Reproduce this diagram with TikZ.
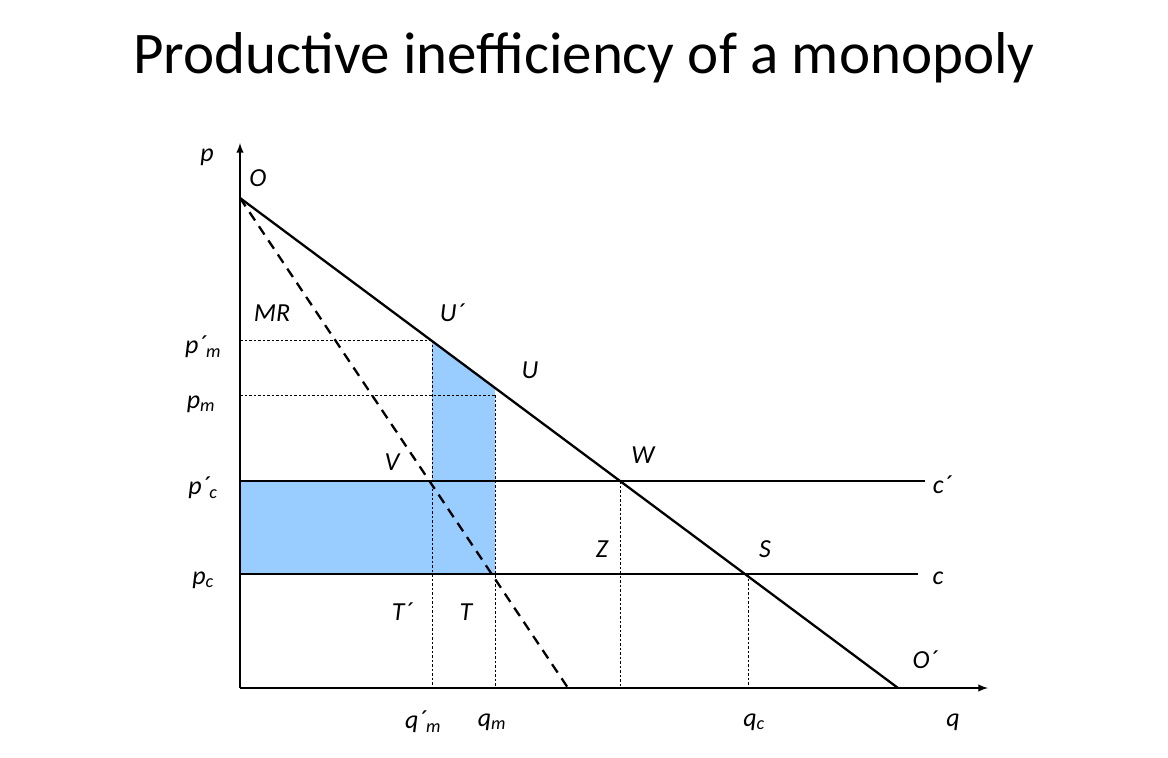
\documentclass[tikz,border=0pt]{standalone}
\usepackage{fontspec}
\setmainfont{Carlito}
\newcommand{\sbm}[1]{\textsubscript{\itshape #1}}
\begin{document}
\begin{tikzpicture}[x=1pt,y=-1pt,
  lbl/.style={font=\fontsize{26}{28}\selectfont\itshape},
  guide/.style={line width=0.6pt,dash pattern=on 2.5pt off 2pt},
  main/.style={line width=2.3pt}]
\definecolor{areablue}{RGB}{153,204,255}
\useasboundingbox (0,0) rectangle (1168,758);
\node (title) at (584,58) {\fontsize{59}{64}\selectfont Productive inefficiency of a monopoly};
\coordinate (orig) at (240,688);
\coordinate (ytop) at (240,143);
\coordinate (xend) at (988,688);
\coordinate (O) at (240,198);
\coordinate (Op) at (898,688);
\coordinate (MRend) at (568,688);
\coordinate (Up) at (432,340);
\coordinate (U) at (495,388);
\coordinate (V) at (432,481);
\coordinate (T) at (495,574);
\coordinate (Tp) at (432,574);
\coordinate (W) at (620,481);
\coordinate (Z) at (620,574);
\coordinate (S) at (748,574);
\coordinate (cpL) at (240,481);
\coordinate (cpR) at (925,481);
\coordinate (cL) at (240,574);
\coordinate (cR) at (918,574);
\fill[areablue] (cpL) rectangle (Tp);
\fill[areablue] (Up) -- (U) -- (T) -- (Tp) -- cycle;
\draw[guide] (240,340) -- (Up);
\draw[guide] (240,395) -- (495,395);
\draw[guide] (Up) -- (432,688);
\draw[guide] (495,395) -- (495,688);
\draw[guide] (W) -- (620,688);
\draw[guide] (S) -- (748,688);
\draw[main,-latex] (orig) -- (ytop);
\draw[main,-latex] (orig) -- (xend);
\draw[main] (O) -- (Op);
\draw[main,dash pattern=on 10pt off 7pt] (O) -- (MRend);
\draw[main] (cpL) -- (cpR);
\draw[main] (cL) -- (cR);
\node[lbl] (lp) at (207,157) {p};
\node[lbl] (lO) at (258,178) {O};
\node[lbl] (lMR) at (272,313) {MR};
\node[lbl] (lUp) at (452,313) {U´};
\node[lbl] (lU) at (530,370) {U};
\node[lbl] (lV) at (392,462) {V};
\node[lbl] (lW) at (643,455) {W};
\node[lbl] (lZ) at (602,549) {Z};
\node[lbl] (lS) at (765,549) {S};
\node[lbl] (lTp) at (402,612) {T´};
\node[lbl] (lT) at (466,612) {T};
\node[lbl] (lOp) at (925,660) {O´};
\node[lbl] (lcp) at (942,485) {c´};
\node[lbl] (lc) at (938,578) {c};
\node[lbl] (lq) at (953,722) {q};
\node[lbl] (lqc) at (754,722) {q\sbm{c}};
\node[lbl] (lqm) at (492,722) {q\sbm{m}};
\node[lbl] (lqpm) at (423,722) {q´\sbm{m}};
\node[lbl] (lppm) at (203,347) {p´\sbm{m}};
\node[lbl] (lpm) at (201,404) {p\sbm{m}};
\node[lbl] (lppc) at (203,488) {p´\sbm{c}};
\node[lbl] (lpc) at (203,580) {p\sbm{c}};
\end{tikzpicture}
\end{document}
